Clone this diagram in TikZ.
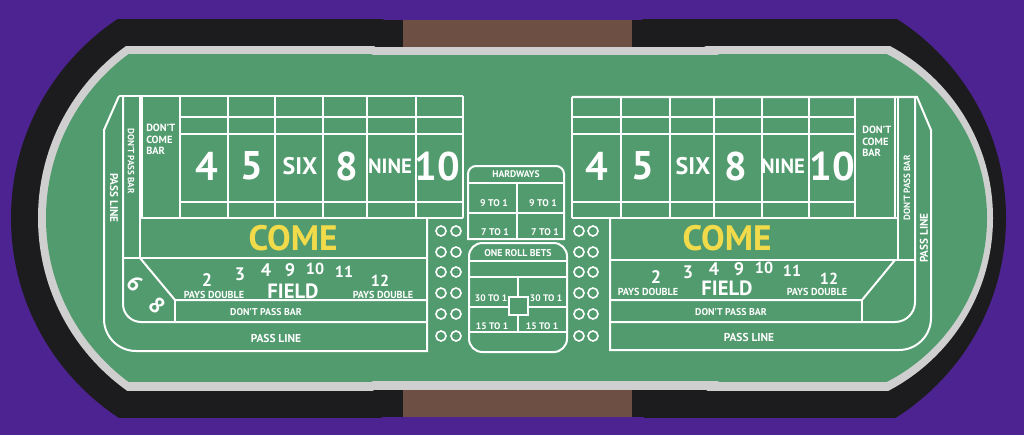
\documentclass[tikz,border=0pt]{standalone}
\usepackage{fontspec}
\setmainfont{PT Sans}
\newcommand\fsz[1]{\fontsize{#1pt}{#1pt}\selectfont}
\definecolor{purp}{RGB}{76,35,145}
\definecolor{railc}{RGB}{28,28,30}
\definecolor{edgec}{RGB}{207,207,207}
\definecolor{woodc}{RGB}{110,79,67}
\definecolor{feltc}{RGB}{82,155,110}
\definecolor{comec}{RGB}{242,219,75}
\begin{document}
\begin{tikzpicture}[x=0.75pt,y=-0.75pt,
  wl/.style={draw=white,line width=1.5pt,line join=miter},
  lbl/.style={text=white,inner sep=0pt,font=\bfseries\fsz{#1}},
  cm/.style={text=comec,inner sep=0pt,font=\bfseries\fsz{#1}}]
\useasboundingbox (0,0) rectangle (1024,435);
\fill[purp] (0,0) rectangle (1024,435);
% rail
\begin{scope}
\clip (0,20) rectangle (1024,417);
\fill[railc] (250,218) circle[radius=239] (770,218) circle[radius=236];
\fill[railc] (250,20) rectangle (770,417);
\end{scope}
\fill[woodc] (403,20) rectangle (632,47);
\fill[woodc] (403,390) rectangle (632,417);
\begin{scope}
\clip (0,47) rectangle (1024,390);
\fill[edgec] (250,218) circle[radius=212] (798,218) circle[radius=195];
\fill[edgec] (250,47) rectangle (798,390);
\end{scope}
\begin{scope}
\clip (0,55) rectangle (1024,381);
\fill[feltc] (250,218) circle[radius=204] (803,218) circle[radius=184];
\fill[feltc] (250,55) rectangle (803,381);
\end{scope}
% ---------- left layout ----------
\draw[wl] (119,96) -- (463,96);
\draw[wl] (119,96) -- (104,130) -- (104,319) arc[start angle=180,end angle=90,radius=32] -- (427,351) -- (427,218);
\draw[wl] (123,96) -- (123,304) arc[start angle=180,end angle=90,radius=18] -- (427,322);
\draw[wl] (140,96) -- (140,258);
\draw[wl] (142,96) -- (142,218);
\foreach \x in {180,228,275,323,367,416,463} \draw[wl] (\x,96) -- (\x,218);
\foreach \y in {117,134,202} \draw[wl] (180,\y) -- (463,\y);
\draw[wl] (140,218) -- (463,218);
\draw[wl] (123,258) -- (427,258);
\draw[wl] (140,258) -- (175,300) -- (427,300);
\draw[wl] (175,300) -- (175,322);
% ---------- right layout ----------
\draw[wl] (572,97) -- (917,97) -- (931,130) -- (931,318) arc[start angle=0,end angle=90,radius=32] -- (610,350) -- (610,218);
\draw[wl] (915,97) -- (915,302) arc[start angle=0,end angle=90,radius=20] -- (610,322);
\draw[wl] (898,97) -- (898,260);
\draw[wl] (895,97) -- (895,218);
\foreach \x in {572,621,670,714,762,809,855} \draw[wl] (\x,97) -- (\x,218);
\foreach \y in {117,134,202} \draw[wl] (572,\y) -- (855,\y);
\draw[wl] (572,218) -- (898,218);
\draw[wl] (610,260) -- (915,260);
\draw[wl] (895,260) -- (862,300) -- (610,300);
\draw[wl] (862,300) -- (862,322);
% ---------- circles ----------
\foreach \y in {231,252,272,293,314,336} {
  \draw[wl,line width=1.2pt] (441,\y) circle[radius=5];
  \draw[wl,line width=1.2pt] (456,\y) circle[radius=5];
  \draw[wl,line width=1.2pt] (579,\y) circle[radius=5];
  \draw[wl,line width=1.2pt] (593,\y) circle[radius=5];
}
% ---------- hardways ----------
\draw[wl] (468,239) -- (468,174) arc[start angle=180,end angle=270,radius=8] -- (556,166) arc[start angle=270,end angle=360,radius=8] -- (564,239) -- cycle;
\draw[wl] (468,183) -- (564,183);
\draw[wl] (468,213) -- (564,213);
\draw[wl] (517,183) -- (517,239);
\node[lbl=7.2] (hw) at (516,174.5) {HARDWAYS};
\node[lbl=7.3] (h9a) at (494,203) {9 TO 1};
\node[lbl=7.3] (h9b) at (543,203) {9 TO 1};
\node[lbl=7.3] (h7a) at (495,232) {7 TO 1};
\node[lbl=7.3] (h7b) at (545,232) {7 TO 1};
% ---------- one roll bets ----------
\draw[wl,rounded corners=10] (469,243) rectangle (567,352);
\draw[wl] (469,261) -- (567,261);
\draw[wl] (469,277) -- (567,277);
\draw[wl] (469,332) -- (567,332);
\draw[wl] (518,277) -- (518,297) (518,315) -- (518,332);
\draw[wl] (469,307) -- (509,307) (528,307) -- (567,307);
\draw[wl] (509,297) rectangle (528,315);
\node[lbl=7.4] (orb) at (518,253) {ONE ROLL BETS};
\node[lbl=7.1] (o30a) at (491,298) {30 TO 1};
\node[lbl=7.1] (o30b) at (546,298) {30 TO 1};
\node[lbl=7.1] (o15a) at (492,326) {15 TO 1};
\node[lbl=7.1] (o15b) at (542,326) {15 TO 1};
% ---------- left texts ----------
\node[lbl=30] (l4) at (207,166) {4};
\node[lbl=30] (l5) at (252,166) {5};
\node[lbl=18] (l6) at (300,166) {SIX};
\node[lbl=30] (l8) at (347,166) {8};
\node[lbl=15.5] (l9) at (390,166) {NINE};
\node[lbl=30] (l10) at (437,166) {10};
\node[lbl=7.8,anchor=west] (ldc1) at (146,128) {DON’T};
\node[lbl=7.8,anchor=west] (ldc2) at (146,139.5) {COME};
\node[lbl=7.8,anchor=west] (ldc3) at (146,151) {BAR};
\node[lbl=6.8,rotate=-90] (ldpv) at (131,161) {DON’T PASS BAR};
\node[lbl=8.4,rotate=-90] (lplv) at (114,198) {PASS LINE};
\node[cm=26.5] (lcome) at (293,238) {COME};
\node[lbl=15.5] (lfield) at (293,291.5) {FIELD};
\node[lbl=13.6] (lf2) at (207,280) {2};
\node[lbl=13.6] (lf3) at (240,274) {3};
\node[lbl=13.6] (lf4) at (266,270.5) {4};
\node[lbl=13.6] (lf9) at (290,270.5) {9};
\node[lbl=12] (lf10) at (315,269) {10};
\node[lbl=12] (lf11) at (344,272) {11};
\node[lbl=12] (lf12) at (380,281) {12};
\node[lbl=7.6] (lpd1) at (214,294.5) {PAYS DOUBLE};
\node[lbl=7.6] (lpd2) at (383,294.5) {PAYS DOUBLE};
\node[lbl=7.4] (ldpb) at (266,312) {DON’T PASS BAR};
\node[lbl=8.6] (lpl) at (276,338) {PASS LINE};
\node[lbl=17,rotate=-45] (lsix) at (135,283) {6};
\node[lbl=17,rotate=-45] (leight) at (157,305) {8};
% ---------- right texts ----------
\node[lbl=30] (r4) at (597,166) {4};
\node[lbl=30] (r5) at (643,166) {5};
\node[lbl=18] (r6) at (693,166) {SIX};
\node[lbl=30] (r8) at (736,166) {8};
\node[lbl=15.5] (r9) at (783,166) {NINE};
\node[lbl=30] (r10) at (832,166) {10};
\node[lbl=7.8,anchor=west] (rdc1) at (862,130) {DON’T};
\node[lbl=7.8,anchor=west] (rdc2) at (862,141.5) {COME};
\node[lbl=7.8,anchor=west] (rdc3) at (862,153) {BAR};
\node[lbl=6.8,rotate=90] (rdpv) at (907,188) {DON’T PASS BAR};
\node[lbl=8.4,rotate=90] (rplv) at (924,238) {PASS LINE};
\node[cm=26.5] (rcome) at (727,238) {COME};
\node[lbl=15.5] (rfield) at (727,288.5) {FIELD};
\node[lbl=13.6] (rf2) at (656,277.5) {2};
\node[lbl=13.6] (rf3) at (688,272.5) {3};
\node[lbl=13.6] (rf4) at (714,269) {4};
\node[lbl=13.6] (rf9) at (739,269) {9};
\node[lbl=12] (rf10) at (764,267.5) {10};
\node[lbl=12] (rf11) at (792,270.5) {11};
\node[lbl=12] (rf12) at (829,278.5) {12};
\node[lbl=7.6] (rpd1) at (648,292) {PAYS DOUBLE};
\node[lbl=7.6] (rpd2) at (817,292) {PAYS DOUBLE};
\node[lbl=7.4] (rdpb) at (731,312) {DON’T PASS BAR};
\node[lbl=8.6] (rpl) at (749,337) {PASS LINE};
\end{tikzpicture}
\end{document}
